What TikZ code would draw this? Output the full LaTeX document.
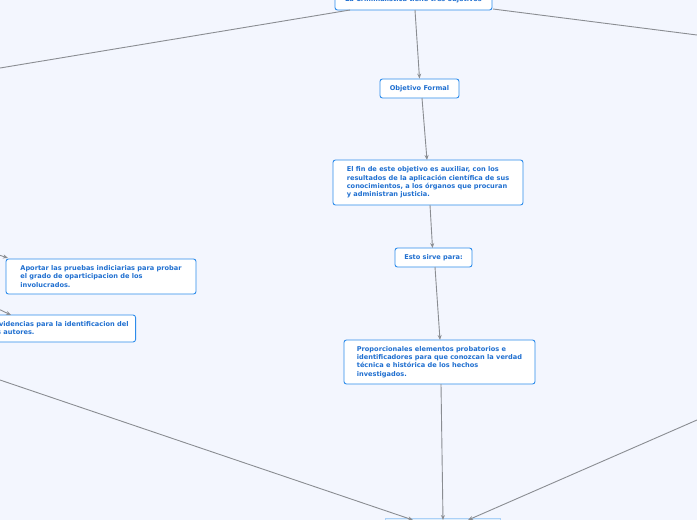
\documentclass[tikz,border=0pt]{standalone}
\usepackage{fontspec}
\setmainfont{DejaVu Sans}
\usetikzlibrary{arrows.meta}
\definecolor{bg}{HTML}{F3F6FE}
\definecolor{bd}{HTML}{2D8CEB}
\definecolor{tx}{HTML}{1F6FD0}
\definecolor{ln}{HTML}{8A8D92}
\tikzset{
 box/.style={draw=bd,line width=0.9pt,rounded corners=2.5pt,fill=white,text=tx,font=\bfseries\fontsize{6.6}{8.3}\selectfont,align=left,inner xsep=7pt,inner ysep=4pt},
 con/.style={draw=ln,line width=0.9pt,-{Stealth[length=5pt,width=4pt]}},
 plain/.style={draw=ln,line width=0.9pt}
}
\begin{document}
\begin{tikzpicture}[x=1pt,y=-1pt]
\fill[bg] (0,0) rectangle (697,520);
\clip (0,0) rectangle (697,520);
\useasboundingbox (0,0) rectangle (697,520);
\node[box,minimum width=157pt,minimum height=20pt] (top) at (413.5,0) {La Criminalística tiene tres objetivos};
\node[box,minimum width=79pt,minimum height=19pt] (of) at (419.5,88.5) {Objetivo Formal};
\node[box,minimum width=190pt,minimum height=45pt] (fin) at (428,182.5) {El fin de este objetivo es auxiliar, con los\\resultados de la aplicación científica de sus\\conocimientos, a los órganos que procuran\\y administran justicia.};
\node[box,minimum width=77pt,minimum height=19pt] (es) at (433.5,257.5) {Esto sirve para:};
\node[box,minimum width=191pt,minimum height=44pt] (pro) at (439.5,362) {Proporcionales elementos probatorios e\\identificadores para que conozcan la verdad\\técnica e histórica de los hechos\\investigados.};
\node[box,minimum width=190pt,minimum height=35pt] (ap) at (101,276.5) {Aportar las pruebas indiciarias para probar\\el grado de oparticipacion de los\\involucrados.};
\node[box,minimum height=27pt,anchor=east] (ev) at (136,328.5) {Aportar evidencias para la identificacion del\\presuntos autores.};
\node[draw=bd!40,fill=bd!15,minimum width=115pt,minimum height=10pt,anchor=north west] (bot) at (385,518) {};
\coordinate (l1) at (0,68); \coordinate (r1) at (697,35);
\coordinate (la) at (-10,252); \coordinate (lb) at (-10,305);
\coordinate (l2) at (0,380); \coordinate (r2) at (697,420);
\draw[plain] (350,10) -- (l1);
\draw[plain] (493,9) -- (r1);
\draw[con] (415,10) -- (of.north);
\draw[con] (422,98) -- (427,160);
\draw[con] (430,205) -- (432.5,248);
\draw[con] (435,267) -- (440,340);
\draw[con] (441,384) -- (443,520);
\draw[con] (la) -- (8,258);
\draw[con] (lb) -- (11,315);
\draw[con] (l2) -- (413,520);
\draw[con] (r2) -- (468,520);
\end{tikzpicture}
\end{document}
